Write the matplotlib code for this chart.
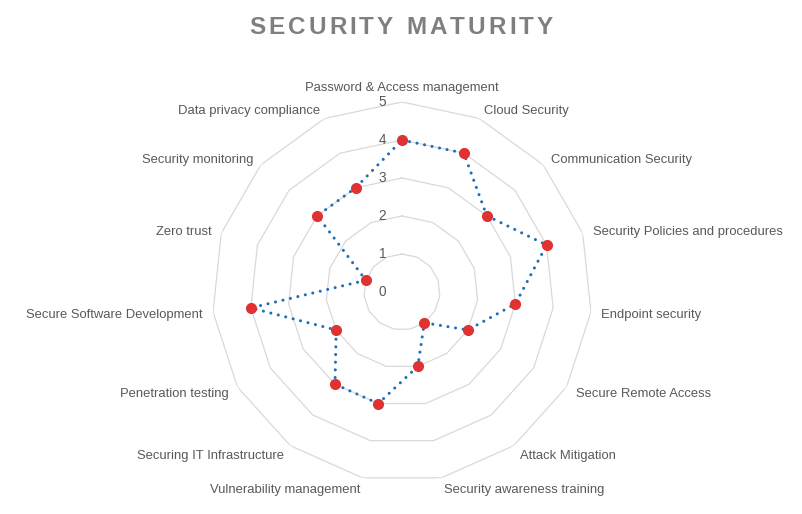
import numpy as np
import matplotlib.pyplot as plt

plt.rcParams['font.family'] = ['Liberation Sans', 'DejaVu Sans']

categories = ['Password & Access management', 'Cloud Security', 'Communication Security',
              'Security Policies and procedures', 'Endpoint security', 'Secure Remote Access',
              'Attack Mitigation', 'Security awareness training', 'Vulnerability management',
              'Securing IT Infrastructure', 'Penetration testing', 'Secure Software Development',
              'Zero trust', 'Security monitoring', 'Data privacy compliance']
scores = [4, 4, 3, 4, 3, 2, 1, 2, 3, 3, 2, 4, 1, 3, 3]
rings = [1, 2, 3, 4, 5]
title = 'SECURITY MATURITY'

text_col = '#595959'
grid_col = '#d9d9d9'

n = len(categories)
theta = np.arange(n) * 2 * np.pi / n
theta_c = np.append(theta, theta[0])

fig = plt.figure(figsize=(8.02, 5.14), dpi=100)
ax = fig.add_axes([212 / 802, 32 / 514, 380 / 802, 380 / 514], projection='polar')
ax.set_theta_zero_location('N')
ax.set_theta_direction(-1)
ax.set_ylim(0, 5)
ax.grid(False)
ax.set_xticks([])
ax.set_yticks([])
ax.spines['polar'].set_visible(False)
ax.patch.set_alpha(0)

# polygon rings
for r in rings:
    ax.plot(theta_c, [r] * (n + 1), color=grid_col, lw=0.9, zorder=1)

# scale labels
for r in [0] + rings:
    ax.annotate(str(r), (0, r), xytext=(-14, 0), textcoords='offset points',
                ha='center', va='center', fontsize=9.8, color=text_col)

# category labels
for t, lab in zip(theta, categories):
    s, c = np.sin(t), np.cos(t)
    d = 7.5
    dy = -1.5
    if abs(s) < 0.05:
        ha = 'center'
        va = 'bottom' if c > 0 else 'top'
        d = 6
        dy = 0
    else:
        ha = 'left' if s > 0 else 'right'
        va = 'center'
    ax.annotate(lab, (t, 5), xytext=(d * s, d * c + dy), textcoords='offset points',
                ha=ha, va=va, fontsize=9.4, color=text_col)

vals = np.append(scores, scores[0])
ax.plot(theta_c, vals, color='#1f6db5', lw=2.2, linestyle=(0, (0.01, 2.5)),
        dash_capstyle='round', zorder=3)
ax.plot(theta, scores, linestyle='none', marker='o', markersize=7,
        color='#e03232', zorder=4)

# title with letter spacing
fig.canvas.draw()
renderer = fig.canvas.get_renderer()
fs = 17.5
spacing = 3.0
widths = []
for ch in title:
    tt = fig.text(0, 0, ch if ch != ' ' else 'n', fontsize=fs, fontweight='bold')
    w = tt.get_window_extent(renderer).width
    if ch == ' ':
        w *= 0.5
    widths.append(w)
    tt.remove()
total = sum(widths) + spacing * (len(title) - 1)
x = 401 - total / 2
for ch, w in zip(title, widths):
    fig.text(x / 802, 1 - 28 / 514, ch, fontsize=fs, fontweight='bold',
             color='#7f7f7f', ha='left', va='center')
    x += w + spacing

fig.savefig('out.png', dpi=100)
